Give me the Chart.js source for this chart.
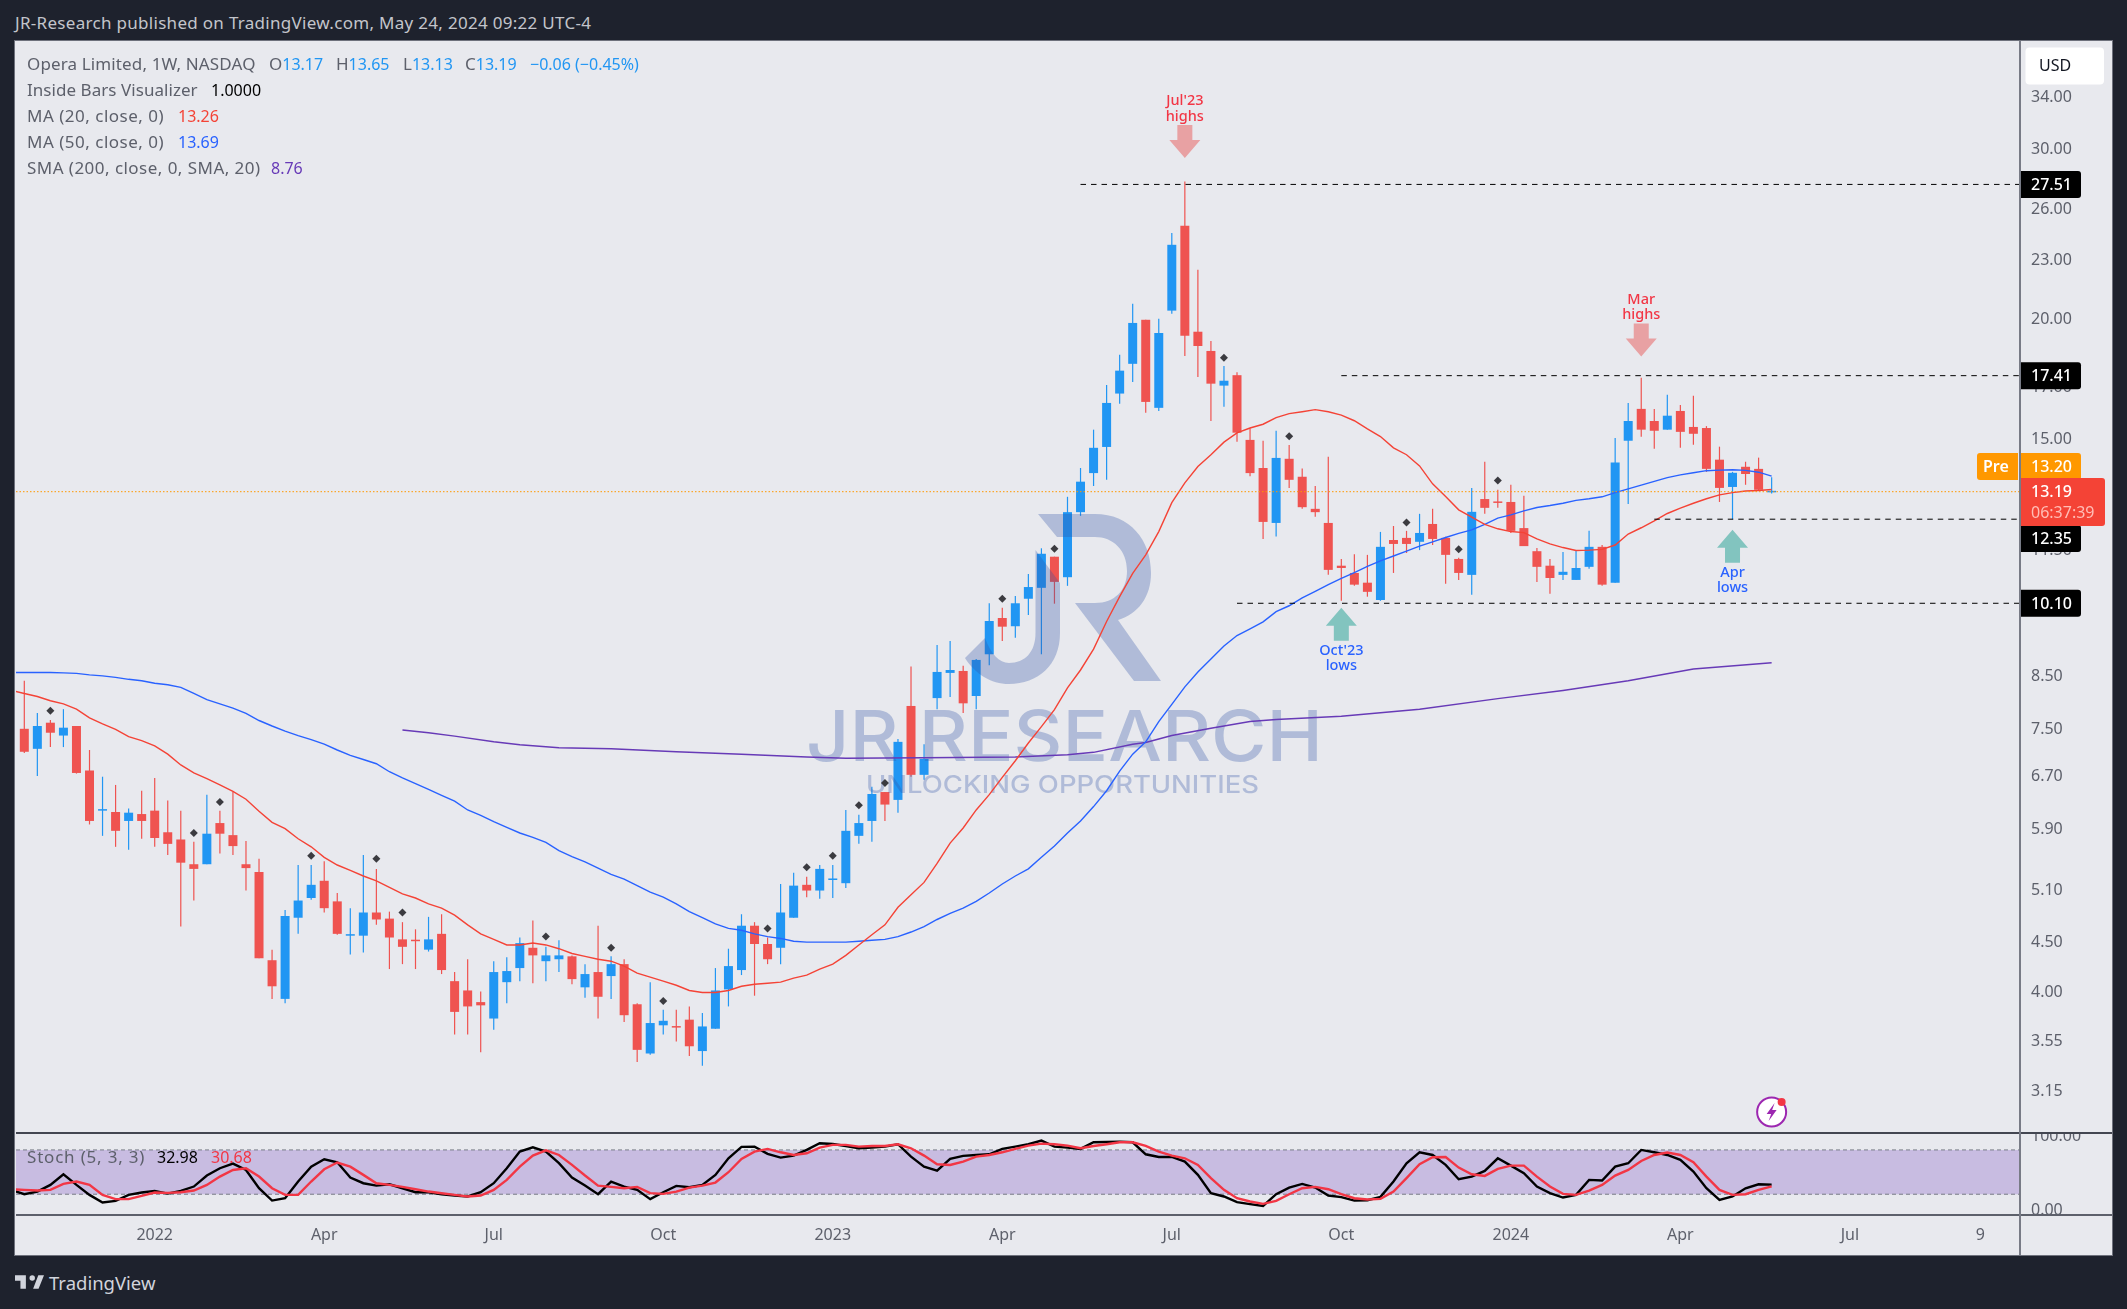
<!DOCTYPE html>
<html>
<head>
<meta charset="utf-8">
<title>Opera Limited, 1W, NASDAQ</title>
<script src="https://cdn.jsdelivr.net/npm/chart.js@4/dist/chart.umd.min.js"></script>
<style>
    html, body { margin: 0; padding: 0; background: #1e222d; }
    body { width: 2127px; height: 1309px; position: relative; overflow: hidden; font-family: "Noto Sans", sans-serif; }
    canvas { position: absolute; display: block; }
    .frame { position: absolute; left: 15px; top: 41px; width: 2097px; height: 1214px; background: #e8e9ee; box-shadow: 0 0 0 1px #6e717c; }
    .rule { position: absolute; background: #434651; }
    .t { position: absolute; white-space: nowrap; font-size: 17px; line-height: 20px; color: #5d606b; transform: translateY(-50%); }
    .n { font-size: 16px; }
    .blue { color: #2196f3; }
</style>
</head>
<body>
<div class="frame"></div>
<canvas id="price-chart" width="2096" height="1091" style="left:16px;top:41px;width:2096px;height:1091px"></canvas>
<canvas id="stoch-chart" width="2096" height="123" style="left:16px;top:1132px;width:2096px;height:123px"></canvas>
<div class="rule" style="left:16px;top:1132px;width:2096px;height:1.5px"></div>
<div class="rule" style="left:16px;top:1214px;width:2096px;height:1.5px;background:#5d606b"></div>
<div class="rule" style="left:2019px;top:41px;width:1.5px;height:1214px;background:#787b86"></div>

<div class="t" style="left:15px;top:23px;color:#c3c5cb;letter-spacing:.3px">JR-Research published on TradingView.com, May 24, 2024 09:22 UTC-4</div>

<div class="t" style="left:27px;top:64px;letter-spacing:.13px">Opera Limited, 1W, NASDAQ</div>
<div class="t" style="left:269px;top:64px">O<span class="blue n">13.17</span></div>
<div class="t" style="left:336px;top:64px">H<span class="blue n">13.65</span></div>
<div class="t" style="left:403px;top:64px">L<span class="blue n">13.13</span></div>
<div class="t" style="left:465px;top:64px">C<span class="blue n">13.19</span></div>
<div class="t blue n" style="left:530px;top:64px">−0.06 (−0.45%)</div>
<div class="t" style="left:27px;top:90px;letter-spacing:.05px">Inside Bars Visualizer</div>
<div class="t n" style="left:211px;top:90px;color:#000">1.0000</div>
<div class="t" style="left:27px;top:116px;letter-spacing:.5px">MA (20, close, 0)</div>
<div class="t n" style="left:178px;top:116px;color:#f44336">13.26</div>
<div class="t" style="left:27px;top:142px;letter-spacing:.5px">MA (50, close, 0)</div>
<div class="t n" style="left:178px;top:142px;color:#2962ff">13.69</div>
<div class="t" style="left:27px;top:168px;letter-spacing:.46px">SMA (200, close, 0, SMA, 20)</div>
<div class="t n" style="left:271px;top:168px;color:#673ab7">8.76</div>

<div class="t" style="left:27px;top:1157px;letter-spacing:.8px">Stoch (5, 3, 3)</div>
<div class="t n" style="left:157px;top:1157px;color:#000">32.98</div>
<div class="t n" style="left:211px;top:1157px;color:#f23645">30.68</div>

<svg style="position:absolute;left:15px;top:1275px" width="29" height="14" viewBox="2 6 32 15"><path fill="#d1d4dc" d="M14 6H2v6h6v9h6V6zm14 15h-6l5.7-15H34l-6 15zm-7-15a3 3 0 1 1 0 6 3 3 0 0 1 0-6z"/></svg>
<div class="t" style="left:49px;top:1283px;color:#d1d4dc;font-size:18.5px">TradingView</div>

<script>
// Weekly bars. The first bar is the one cut by the left edge
const opens = [7.62,
    7.48,7.13,7.59,7.36,7.53,6.77,6.15,6.13,6.00,6.10,
    6.15,5.84,5.74,5.41,5.41,5.97,5.80,5.41,5.31,4.30,
    3.92,4.76,4.99,5.20,4.95,4.56,4.56,4.82,4.75,4.52,
    4.51,4.41,4.58,4.09,4.00,3.89,3.74,4.08,4.22,4.43,
    4.29,4.31,4.34,4.03,4.18,4.14,4.26,3.87,3.44,3.68,
    3.67,3.73,3.46,3.65,4.01,4.20,4.67,4.47,4.43,4.76,
    5.15,5.08,5.21,5.17,5.79,6.00,6.43,6.31,7.90,6.70,
    8.05,8.55,8.59,8.09,8.94,9.75,9.56,10.21,10.48,11.29,
    10.75,12.56,13.79,14.68,16.68,17.91,19.90,16.12,20.34,24.92,
    19.34,18.47,17.00,17.43,14.93,13.96,12.24,14.27,13.67,12.66,
    12.24,11.05,10.86,10.61,10.18,11.75,11.81,11.70,12.21,11.81,
    11.23,10.81,12.96,12.87,12.87,12.09,11.44,11.05,10.81,10.68,
    11.02,11.56,10.61,14.90,16.08,15.62,15.30,16.00,15.40,15.36,
    14.24,13.34,14.00,13.93,13.17];
const closes = [7.40,
    7.08,7.53,7.41,7.50,6.73,6.00,6.16,5.86,6.12,6.00,
    5.76,5.68,5.43,5.35,5.82,5.82,5.65,5.36,4.32,4.04,
    4.78,4.96,5.15,4.87,4.58,4.57,4.82,4.74,4.54,4.44,
    4.50,4.52,4.20,3.80,3.85,3.86,4.18,4.19,4.48,4.35,
    4.35,4.35,4.11,4.16,3.94,4.26,3.77,3.47,3.70,3.72,
    3.66,3.50,3.67,4.00,4.24,4.67,4.47,4.31,4.82,5.14,
    5.08,5.35,5.22,5.86,5.97,6.40,6.24,7.25,6.70,6.96,
    8.57,8.61,7.95,8.82,9.68,9.55,10.10,10.50,11.37,10.63,
    12.56,13.51,14.65,16.31,17.62,19.75,16.35,19.28,23.81,19.15,
    18.69,17.08,17.20,15.19,13.79,12.27,14.30,13.57,12.71,12.56,
    10.94,10.99,10.56,10.38,11.56,11.64,11.64,11.95,11.78,11.34,
    10.86,12.57,12.69,12.84,12.01,11.58,11.02,10.73,10.89,10.99,
    11.56,10.56,14.14,15.62,15.30,15.26,15.82,15.22,15.15,13.93,
    13.31,13.80,13.76,13.25,13.19];
const highs = [7.62,
    8.39,7.77,7.64,7.84,7.53,7.11,6.67,6.54,6.18,6.45,
    6.65,6.30,6.15,5.71,6.39,6.15,6.43,5.72,5.48,4.41,
    4.85,5.40,5.40,5.45,5.05,4.87,5.53,5.35,4.83,4.71,
    4.63,4.77,4.80,4.18,4.31,3.99,4.29,4.33,4.54,4.73,
    4.44,4.51,4.35,4.26,4.67,4.34,4.31,3.88,4.08,3.82,
    3.82,3.85,3.79,4.22,4.42,4.80,4.71,4.54,5.16,5.30,
    5.25,5.40,5.40,6.16,6.09,6.51,6.43,7.30,8.68,7.21,
    9.14,9.23,8.70,8.84,10.10,9.99,10.28,10.83,11.52,11.29,
    13.03,13.96,15.30,17.03,18.30,20.68,19.90,19.95,24.49,27.70,
    22.43,18.92,17.82,17.55,15.35,14.90,15.26,14.75,13.94,13.37,
    14.34,11.23,11.36,11.34,11.98,12.15,12.01,12.51,12.66,11.84,
    11.26,13.31,14.17,13.25,13.41,13.06,11.53,11.23,11.42,11.47,
    12.01,11.61,15.00,16.31,17.32,16.08,16.63,16.23,16.59,15.43,
    14.69,13.83,14.17,14.31,13.65];
const lows = [7.40,
    7.06,6.68,7.16,7.16,6.72,5.95,5.79,5.64,5.60,5.75,
    5.64,5.53,4.66,4.96,5.41,5.55,5.53,5.08,4.32,3.92,
    3.88,4.58,4.97,4.82,4.57,4.36,4.38,4.68,4.21,4.26,
    4.21,4.39,4.16,3.60,3.60,3.45,3.64,3.88,4.09,4.07,
    4.09,4.18,4.06,3.93,3.74,3.92,3.71,3.37,3.43,3.60,
    3.54,3.42,3.34,3.65,3.85,4.15,3.95,4.26,4.26,4.76,
    5.00,4.98,4.99,5.11,5.68,5.71,6.00,6.12,6.67,6.62,
    7.84,8.07,7.77,7.84,8.71,9.23,9.30,9.82,8.94,10.09,
    10.53,12.45,13.37,13.57,16.28,17.15,15.93,16.00,20.19,18.25,
    17.35,15.62,16.16,14.86,13.69,11.78,11.85,13.31,12.66,12.42,
    10.81,10.16,10.53,10.26,10.16,10.86,11.39,11.47,11.61,10.58,
    10.68,10.31,12.51,12.69,11.95,11.58,10.63,10.33,10.68,10.68,
    10.97,10.53,10.61,12.81,15.04,14.62,15.30,14.65,14.76,13.83,
    12.87,12.35,13.41,13.22,13.13];

const ma20 = [8.20,
    8.14,8.08,8.00,7.94,7.84,7.68,7.57,7.47,7.34,7.27,
    7.18,7.04,6.86,6.73,6.64,6.54,6.44,6.32,6.14,5.98,
    5.89,5.75,5.64,5.50,5.40,5.33,5.26,5.20,5.12,5.04,
    4.99,4.92,4.87,4.79,4.68,4.58,4.52,4.46,4.46,4.48,
    4.46,4.42,4.37,4.34,4.31,4.29,4.24,4.17,4.13,4.09,
    4.05,4.00,3.98,3.98,4.00,4.04,4.06,4.07,4.08,4.12,
    4.15,4.21,4.26,4.35,4.46,4.57,4.68,4.88,5.03,5.18,
    5.42,5.69,5.90,6.16,6.39,6.66,6.93,7.23,7.52,7.83,
    8.25,8.61,9.05,9.67,10.26,10.85,11.34,11.99,12.85,13.47,
    14.01,14.41,14.85,15.18,15.36,15.50,15.75,15.90,15.97,16.05,
    15.97,15.84,15.63,15.33,15.05,14.65,14.41,14.03,13.44,13.04,
    12.63,12.41,12.20,12.07,11.99,11.96,11.78,11.64,11.54,11.46,
    11.47,11.49,11.61,11.92,12.10,12.30,12.52,12.68,12.83,12.97,
    13.09,13.16,13.21,13.23,13.26];
const ma50 = [8.56,
    8.56,8.56,8.56,8.55,8.54,8.51,8.49,8.46,8.42,8.39,
    8.34,8.31,8.26,8.14,8.02,7.94,7.86,7.76,7.63,7.53,
    7.44,7.36,7.29,7.21,7.11,7.02,6.95,6.88,6.75,6.65,
    6.56,6.47,6.38,6.29,6.16,6.08,5.99,5.91,5.83,5.77,
    5.70,5.59,5.51,5.44,5.36,5.28,5.22,5.14,5.06,5.00,
    4.92,4.83,4.76,4.69,4.64,4.62,4.58,4.55,4.53,4.50,
    4.49,4.49,4.49,4.49,4.50,4.51,4.52,4.55,4.60,4.66,
    4.74,4.81,4.87,4.95,5.05,5.16,5.26,5.35,5.50,5.65,
    5.83,6.00,6.21,6.45,6.76,7.04,7.25,7.61,7.93,8.27,
    8.57,8.84,9.12,9.35,9.50,9.66,9.90,10.04,10.23,10.39,
    10.56,10.72,10.87,11.03,11.18,11.31,11.44,11.58,11.70,11.82,
    11.94,12.04,12.20,12.38,12.48,12.60,12.70,12.76,12.83,12.92,
    12.97,13.03,13.16,13.28,13.40,13.52,13.64,13.73,13.80,13.87,
    13.89,13.90,13.88,13.82,13.69];
const sma200Idx = [30,32,34,37,39,42,46,51,56,61,64,70,77,81,83,86,87,89,92,95,97,102,108,114,119,124,129,135];
const sma200Vals = [7.46,7.41,7.35,7.25,7.20,7.15,7.13,7.08,7.04,6.99,6.97,6.98,6.99,7.03,7.07,7.21,7.24,7.36,7.49,7.61,7.65,7.71,7.84,8.04,8.20,8.39,8.63,8.76];

const stochK = [25.9,
    20.0,23.6,32.6,47.1,32.6,19.1,8.7,11,19.1,22.3,
    24.5,20.9,24.5,30.4,45.3,55.2,61.5,52.9,28.1,11.4,
    14.6,37.2,57.4,67.4,63.3,42.6,34.9,31.7,33.5,28.1,
    22.7,22.7,20,18.2,16.9,22.7,34.9,55.2,77.7,83.6,
    77.7,62,42.6,31.7,20,37.2,30.4,25.9,13.3,22.7,
    31.3,29.5,32.6,46.2,68.7,84.1,84.5,74.6,69.6,72.3,
    80,89,88.1,85.4,82.3,83.2,84.5,87.7,71,57.4,
    52,67.8,71.9,73.2,74.1,81.4,84.5,87.7,92.6,84.5,
    83.2,81.4,90.4,90.8,91.3,90.4,74.1,70.5,70.5,64.2,
    46.2,21.4,16.9,9.2,6.6,4.2,20,29,34,29,
    18.2,16,11.4,11.9,16.4,37.2,62,76.8,73.2,59.7,
    40.3,43.9,51.6,68.7,58.8,48.4,30.4,21.4,15.5,19.1,
    39.4,38.5,57.4,62,80,76.8,73.2,66.5,50.7,28.1,
    12.4,16.9,28.1,33.5,32.98];
const stochD = [26.8,
    25.9,25,25.9,34,37.2,32.6,19.1,13.3,13.3,17.8,
    22.3,21.8,22.7,25,32.6,43.9,52.9,55.2,43.9,28.1,
    19.1,19.1,37.2,53.8,62.9,57.4,46.2,34.9,32.6,29.9,
    26.8,23.6,21.4,19.1,16.9,18.2,25.9,39.4,57.4,72.3,
    79.5,73.2,59.7,45.3,31.7,29.9,28.1,29.9,21.4,20.5,
    23.6,29,31.7,35.8,49.8,67.8,77.7,81.4,76.8,73.2,
    75.5,83.2,86.8,86.8,84.5,85.4,85.4,87.7,82.3,72.3,
    60.6,59.7,64.2,71,73.2,76.8,81.4,85.9,88.6,87.7,
    85.9,82.3,85.4,87.7,90.4,90.4,85.4,77.7,72.3,68.7,
    59.7,41.7,25.9,14.6,10.1,6.9,11,20,28.1,29.9,
    26.8,20,14.6,12.8,13.7,23.6,41.7,60.6,70.1,70.5,
    56.1,47.1,44.8,54.3,58.8,58.8,43.9,30.4,20.5,19.1,
    25,32.6,45.3,52.9,65.1,73.2,76.4,73.2,63.3,43.9,
    25.9,19.1,20,25.9,30.68];

const insideIdx = [3,14,16,23,28,30,41,46,50,58,61,63,65,67,76,80,93,98,107,111,114];
const insideVals = [7.81,5.83,6.28,5.52,5.48,4.82,4.55,4.43,3.90,4.64,5.37,5.52,6.23,6.57,10.21,11.51,18.17,15.06,12.25,11.49,13.55];

const priceTicks = [34,30,26,23,20,17,15,13,11.5,10,8.5,7.5,6.7,5.9,5.1,4.5,4,3.55,3.15];
const stochTicks = [100,0];
const timeTickIdx = [11,24,37,50,63,76,89,102,115,128,141,151];
const timeTickLabels = ['2022','Apr','Jul','Oct','2023','Apr','Jul','Oct','2024','Apr','Jul','9'];

const levelPrices = [27.51,17.41,12.35,10.10];
const levelStartIdx = [82,102,126,94];
const lastPrice = 13.19;

const noteLabels = [["Jul'23",'highs'],['Mar','highs'],["Oct'23",'lows'],['Apr','lows']];
const noteIdx = [90,125,102,132];
const notePrices = [29.3,18.23,9.99,12.04];
const noteDown = [true,true,false,false];

const X_MIN = 0.363, X_MAX = 153.97;
const Y_MIN = 2.851, Y_MAX = 38.77;
const UP = '#2196f3', DOWN = '#ef5350';
const FONT = '"Noto Sans", sans-serif';

const barColors = opens.map((o, i) => closes[i] >= o ? UP : DOWN);
const xy = (vals) => vals.map((v, i) => ({ x: i, y: v }));

function _rrect(ctx, x, y, w, h, radii, color) {
    ctx.fillStyle = color;
    ctx.beginPath();
    ctx.roundRect(x, y, w, h, radii);
    ctx.fill();
}

function _label(ctx, text, x, y, color, font, align) {
    ctx.fillStyle = color;
    ctx.font = font;
    ctx.textAlign = align || 'left';
    ctx.textBaseline = 'middle';
    ctx.fillText(text, x, y);
}

// sits between the candles and the lines, the candles show through it
function _drawWatermark(ctx) {
    const ox = 16, oy = 41;
    ctx.save();
    ctx.translate(-ox, -oy);
    ctx.fillStyle = 'rgba(45,83,165,0.3)';
    ctx.beginPath();
    ctx.moveTo(1038, 514);
    ctx.lineTo(1095, 514);
    ctx.bezierCurveTo(1130, 514, 1151, 540, 1151, 573);
    ctx.bezierCurveTo(1151, 597, 1138, 614, 1118, 620);
    ctx.lineTo(1161, 681);
    ctx.lineTo(1134, 681);
    ctx.lineTo(1075, 603);
    ctx.lineTo(1095, 603);
    ctx.bezierCurveTo(1115, 603, 1127, 590, 1127, 571);
    ctx.bezierCurveTo(1127, 550, 1113, 537, 1095, 537);
    ctx.lineTo(1057, 537);
    ctx.closePath();
    ctx.moveTo(1035.5, 550);
    ctx.lineTo(1060, 583);
    ctx.lineTo(1060, 633);
    ctx.bezierCurveTo(1060, 665, 1038, 684, 1009, 684);
    ctx.bezierCurveTo(991, 684, 975, 674, 965, 658);
    ctx.lineTo(985, 638);
    ctx.bezierCurveTo(991, 654, 999, 663, 1009, 663);
    ctx.bezierCurveTo(1025, 663, 1035.5, 652, 1035.5, 633);
    ctx.closePath();
    ctx.fill();

    const stretched = (text, left, right, baseline, font) => {
        ctx.font = font;
        ctx.textAlign = 'left';
        ctx.textBaseline = 'alphabetic';
        const w = ctx.measureText(text).width;
        ctx.save();
        ctx.translate(left, baseline);
        ctx.scale((right - left) / w, 1);
        ctx.fillText(text, 0, 0);
        ctx.restore();
    };
    stretched('JR RESEARCH', 806, 1323, 761, '500 70px Inter, sans-serif');
    stretched('UNLOCKING OPPORTUNITIES', 866, 1259, 793, '500 24px Inter, sans-serif');
    ctx.restore();
}

const pricePlugin = {
    id: 'priceExtras',
    beforeDatasetDraw(chart, args) {
        if (args.meta.label === 'SMA 200') _drawWatermark(chart.ctx);
    },
    afterDraw(chart) {
        const ctx = chart.ctx, xs = chart.scales.x, ys = chart.scales.y;
        const right = chart.chartArea.right;
        ctx.save();

        noteLabels.forEach((lines, i) => {
            const cx = xs.getPixelForValue(noteIdx[i]);
            const tip = ys.getPixelForValue(notePrices[i]);
            const dir = noteDown[i] ? -1 : 1;
            ctx.fillStyle = noteDown[i] ? '#e8a1a3' : '#82c4bf';
            ctx.beginPath();
            ctx.moveTo(cx, tip);
            ctx.lineTo(cx + 15.5, tip + dir * 18);
            ctx.lineTo(cx + 7.5, tip + dir * 18);
            ctx.lineTo(cx + 7.5, tip + dir * 33);
            ctx.lineTo(cx - 7.5, tip + dir * 33);
            ctx.lineTo(cx - 7.5, tip + dir * 18);
            ctx.lineTo(cx - 15.5, tip + dir * 18);
            ctx.closePath();
            ctx.fill();
            const color = noteDown[i] ? '#f23645' : '#2962ff';
            const first = noteDown[i] ? tip - 57 : tip + 43;
            const font = '500 14.5px ' + FONT;
            _label(ctx, lines[0], cx, first, color, font, 'center');
            _label(ctx, lines[1], cx, first + 15.5, color, font, 'center');
        });

        // price tags on the axis, drawn over the tick labels
        const tagY = [ys.getPixelForValue(27.51), ys.getPixelForValue(17.41), 497.5, ys.getPixelForValue(10.10)];
        levelPrices.forEach((p, i) => {
            const y = tagY[i];
            _rrect(ctx, right, y - 13.5, 62, 27, [0, 3, 3, 0], '#000');
            _label(ctx, p.toFixed(2), right + 12, y + 1, '#fff', '500 16px ' + FONT);
        });

        _rrect(ctx, right - 42, 412, 41, 27, [3, 0, 0, 3], '#ff9800');
        _label(ctx, 'Pre', right - 36, 426.5, '#fff', '600 16px ' + FONT);
        _rrect(ctx, right, 412, 62, 27, [0, 3, 3, 0], '#ff9800');
        _label(ctx, '13.20', right + 12, 426.5, '#fff', '500 16px ' + FONT);

        _rrect(ctx, right, 437, 86, 48, [0, 3, 3, 0], '#f44336');
        _label(ctx, lastPrice.toFixed(2), right + 12, ys.getPixelForValue(lastPrice) + 1, '#fff', '500 16px ' + FONT);
        _label(ctx, '06:37:39', right + 12, 472, '#ffbdb6', '16px ' + FONT);

        _rrect(ctx, right + 6.5, 6.5, 78.5, 37, 4, '#fff');
        _label(ctx, 'USD', right + 20, 25, '#131722', '16px ' + FONT);

        // lightning badge under the last bar
        const bx = xs.getPixelForValue(opens.length - 1), by = chart.chartArea.bottom - 20;
        ctx.fillStyle = '#fff';
        ctx.strokeStyle = '#9c27b0';
        ctx.lineWidth = 2;
        ctx.beginPath();
        ctx.arc(bx, by, 14.5, 0, Math.PI * 2);
        ctx.fill();
        ctx.stroke();
        ctx.fillStyle = '#9c27b0';
        ctx.beginPath();
        ctx.moveTo(bx + 3, by - 9);
        ctx.lineTo(bx - 5, by + 2);
        ctx.lineTo(bx - 0.5, by + 2);
        ctx.lineTo(bx - 3, by + 9);
        ctx.lineTo(bx + 5, by - 2);
        ctx.lineTo(bx + 0.5, by - 2);
        ctx.closePath();
        ctx.fill();
        ctx.fillStyle = '#f23645';
        ctx.beginPath();
        ctx.arc(bx + 10, by - 10, 4, 0, Math.PI * 2);
        ctx.fill();
        ctx.restore();
    }
};

// tick padding also feeds the scale's outer padding, which would shrink the chart area
const fitRightAxis = (s) => {
    s.width = 93;
    s.paddingTop = 0;
    s.paddingBottom = 0;
};

const levelSets = levelPrices.map((p, i) => ({
    type: 'line',
    label: 'Level ' + p,
    data: [{ x: levelStartIdx[i], y: p }, { x: X_MAX, y: p }],
    borderColor: '#000',
    borderWidth: 1,
    borderDash: [5.5, 5],
    pointRadius: 0,
    order: 1
}));

new Chart(document.getElementById('price-chart').getContext('2d'), {
    type: 'bar',
    data: {
        datasets: [
            {
                label: 'Wicks',
                data: highs.map((h, i) => ({ x: i, y: [lows[i], h] })),
                backgroundColor: barColors,
                barThickness: 1.2,
                grouped: false,
                inflateAmount: 0,
                order: 9
            },
            {
                label: 'Bodies',
                data: opens.map((o, i) => ({ x: i, y: [Math.min(o, closes[i]), Math.max(o, closes[i])] })),
                backgroundColor: barColors,
                barThickness: 9,
                minBarLength: 1.5,
                grouped: false,
                inflateAmount: 0,
                order: 8
            },
            { type: 'line', label: 'SMA 200', data: sma200Idx.map((x, i) => ({ x, y: sma200Vals[i] })), borderColor: '#673ab7', borderWidth: 1.5, pointRadius: 0, order: 7 },
            { type: 'line', label: 'MA 50', data: xy(ma50), borderColor: '#2962ff', borderWidth: 1.4, pointRadius: 0, order: 6 },
            { type: 'line', label: 'MA 20', data: xy(ma20), borderColor: '#f44336', borderWidth: 1.4, pointRadius: 0, order: 5 },
            {
                type: 'line',
                label: 'Last',
                data: [{ x: X_MIN, y: lastPrice }, { x: X_MAX, y: lastPrice }],
                borderColor: '#ff9800',
                borderWidth: 1,
                borderDash: [1.5, 2],
                pointRadius: 0,
                order: 4
            },
            {
                type: 'line',
                label: 'Inside bars',
                data: insideIdx.map((x, i) => ({ x, y: insideVals[i] })),
                showLine: false,
                pointStyle: 'rectRot',
                pointRadius: 4,
                pointBackgroundColor: '#3b3b40',
                pointBorderWidth: 0,
                order: 3
            },
            ...levelSets
        ]
    },
    options: {
        responsive: false,
        animation: false,
        layout: { padding: 0, autoPadding: false },
        plugins: { legend: { display: false }, tooltip: { enabled: false } },
        scales: {
            x: { type: 'linear', offset: false, min: X_MIN, max: X_MAX, display: false, grid: { display: false } },
            y: {
                type: 'logarithmic',
                position: 'right',
                min: Y_MIN,
                max: Y_MAX,
                afterBuildTicks: (s) => { s.ticks = priceTicks.map(v => ({ value: v })); },
                afterFit: fitRightAxis,
                grid: { display: false, drawTicks: false },
                border: { display: false },
                ticks: {
                    autoSkip: false,
                    padding: 12,
                    labelOffset: 1.5,
                    color: '#5d606b',
                    font: { family: FONT, size: 16 },
                    callback: (v) => Number(v).toFixed(2)
                }
            }
        }
    },
    plugins: [pricePlugin]
});

new Chart(document.getElementById('stoch-chart').getContext('2d'), {
    type: 'line',
    data: {
        datasets: [
            { label: 'Upper', data: [{ x: X_MIN, y: 80 }, { x: X_MAX, y: 80 }], borderColor: '#787b86', borderWidth: 1, borderDash: [4, 3], pointRadius: 0, fill: '+1', backgroundColor: 'rgba(126,87,194,0.3)', order: 4 },
            { label: 'Lower', data: [{ x: X_MIN, y: 20 }, { x: X_MAX, y: 20 }], borderColor: '#787b86', borderWidth: 1, borderDash: [4, 3], pointRadius: 0, order: 3 },
            { label: '%K', data: xy(stochK), borderColor: '#000', borderWidth: 2.4, pointRadius: 0, order: 2 },
            { label: '%D', data: xy(stochD), borderColor: '#f23645', borderWidth: 2.4, pointRadius: 0, order: 1 }
        ]
    },
    options: {
        responsive: false,
        animation: false,
        layout: { padding: 0, autoPadding: false },
        plugins: { legend: { display: false }, tooltip: { enabled: false } },
        scales: {
            x: {
                type: 'linear',
                min: X_MIN,
                max: X_MAX,
                afterBuildTicks: (s) => { s.ticks = timeTickIdx.map(v => ({ value: v })); },
                afterFit: (s) => { s.height = 41; s.paddingLeft = 0; s.paddingRight = 0; },
                grid: { display: false, drawTicks: false },
                border: { display: false },
                ticks: {
                    autoSkip: false,
                    maxRotation: 0,
                    padding: 12,
                    color: '#5d606b',
                    font: { family: FONT, size: 16 },
                    callback: (v) => timeTickLabels[timeTickIdx.indexOf(v)]
                }
            },
            y: {
                type: 'linear',
                position: 'right',
                min: -6.8,
                max: 104.3,
                afterBuildTicks: (s) => { s.ticks = stochTicks.map(v => ({ value: v })); },
                afterFit: fitRightAxis,
                grid: { display: false, drawTicks: false },
                border: { display: false },
                ticks: {
                    autoSkip: false,
                    padding: 12,
                    labelOffset: 1,
                    color: '#5d606b',
                    font: { family: FONT, size: 16 },
                    callback: (v) => Number(v).toFixed(2)
                }
            }
        }
    }
});
</script>
</body>
</html>
